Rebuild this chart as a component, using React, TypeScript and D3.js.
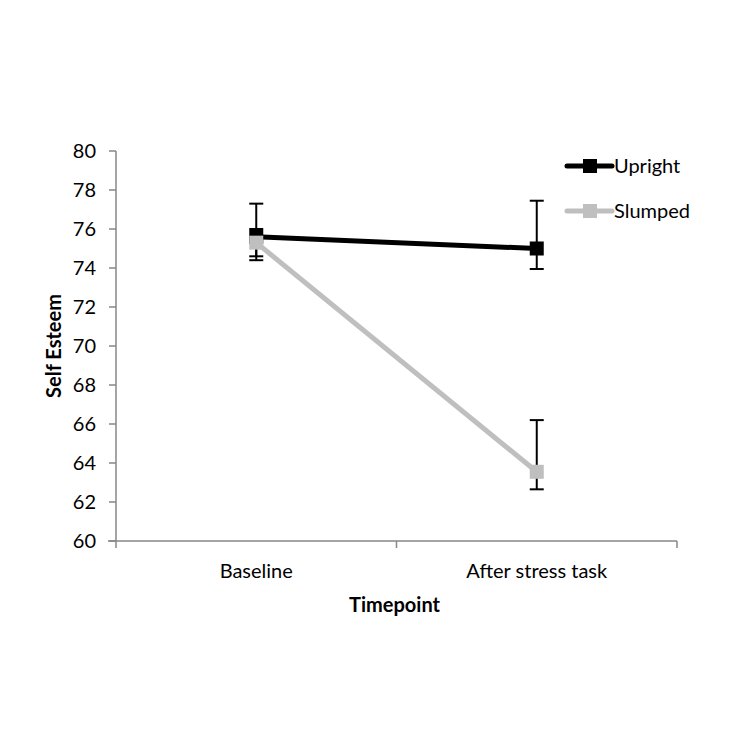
import React from "react";
import * as d3 from "d3";

const categories = ["Baseline", "After stress task"];
const seriesNames = ["Upright", "Slumped"];
const uprightValues = [75.6, 75.0];
const uprightUpper = [77.3, 77.45];
const uprightLower = [74.6, 73.95];
const slumpedValues = [75.3, 63.55];
const slumpedUpper = [76.0, 66.2];
const slumpedLower = [74.4, 62.65];
const yTicks = [60, 62, 64, 66, 68, 70, 72, 74, 76, 78, 80];

const W = 741;
const H = 741;
const left = 116;
const right = 677;
const top = 151;
const bottom = 541;
const font = "Lato, 'Open Sans', sans-serif";

export default function App() {
  const x = d3.scaleBand<string>().domain(categories).range([left, right]);
  const y = d3.scaleLinear().domain([60, 80]).range([bottom, top]);
  const cx = (c: string) => (x(c) as number) + x.bandwidth() / 2;
  const line = d3
    .line<[string, number]>()
    .x((d) => cx(d[0]))
    .y((d) => y(d[1]));

  const series = [
    { name: seriesNames[0], values: uprightValues, upper: uprightUpper, lower: uprightLower, color: "#000000" },
    { name: seriesNames[1], values: slumpedValues, upper: slumpedUpper, lower: slumpedLower, color: "#bfbfbf" },
  ];
  const axisColor = "#878787";
  const boundaries = [left, ...categories.map((c) => (x(c) as number) + x.bandwidth())];

  return (
    <svg width={W} height={H} style={{ position: "absolute", left: 0, top: 0, background: "#fff" }}>
      <rect x={0} y={0} width={W} height={H} fill="#fff" />
      {/* axes */}
      <line x1={left} x2={left} y1={top} y2={bottom} stroke={axisColor} strokeWidth={1.5} />
      <line x1={left - 8} x2={right} y1={bottom} y2={bottom} stroke={axisColor} strokeWidth={1.5} />
      {yTicks.map((t) => (
        <g key={t}>
          <line x1={left - 7} x2={left} y1={y(t)} y2={y(t)} stroke={axisColor} strokeWidth={1.5} />
          <text x={left - 20} y={y(t)} dy="0.36em" textAnchor="end" fontFamily={font} fontSize={20} fill="#000">
            {t}
          </text>
        </g>
      ))}
      {boundaries.map((b, i) => (
        <line key={i} x1={b} x2={b} y1={bottom} y2={bottom + 7} stroke={axisColor} strokeWidth={1.5} />
      ))}
      {categories.map((c) => (
        <text key={c} x={cx(c)} y={578} textAnchor="middle" fontFamily={font} fontSize={20} fill="#000">
          {c}
        </text>
      ))}
      <text x={(left + right) / 2 - 2} y={612} textAnchor="middle" fontFamily={font} fontSize={20} fontWeight="bold">
        Timepoint
      </text>
      <text
        transform={`translate(61, ${(top + bottom) / 2}) rotate(-90)`}
        textAnchor="middle"
        fontFamily={font}
        fontSize={20}
        fontWeight="bold"
      >
        Self Esteem
      </text>

      {/* series */}
      {series.map((s) => (
        <g key={s.name}>
          {categories.map((c, i) => (
            <g key={c}>
              <line x1={cx(c)} x2={cx(c)} y1={y(s.upper[i])} y2={y(s.lower[i])} stroke="#000" strokeWidth={2} />
              <line x1={cx(c) - 7} x2={cx(c) + 7} y1={y(s.upper[i])} y2={y(s.upper[i])} stroke="#000" strokeWidth={2} />
              <line x1={cx(c) - 7} x2={cx(c) + 7} y1={y(s.lower[i])} y2={y(s.lower[i])} stroke="#000" strokeWidth={2} />
            </g>
          ))}
          <path
            d={line(categories.map((c, i) => [c, s.values[i]] as [string, number])) || ""}
            fill="none"
            stroke={s.color}
            strokeWidth={5}
          />
          {categories.map((c, i) => (
            <rect key={c} x={cx(c) - 7} y={y(s.values[i]) - 7} width={14} height={14} fill={s.color} />
          ))}
        </g>
      ))}

      {/* legend */}
      {series.map((s, i) => {
        const ly = 166 + i * 45;
        return (
          <g key={s.name}>
            <line x1={567} x2={612} y1={ly} y2={ly} stroke={s.color} strokeWidth={5} strokeLinecap="round" />
            <rect x={583} y={ly - 7} width={14} height={14} fill={s.color} />
            <text x={614} y={ly} dy="0.36em" fontFamily={font} fontSize={20} fill="#000">
              {s.name}
            </text>
          </g>
        );
      })}
    </svg>
  );
}
